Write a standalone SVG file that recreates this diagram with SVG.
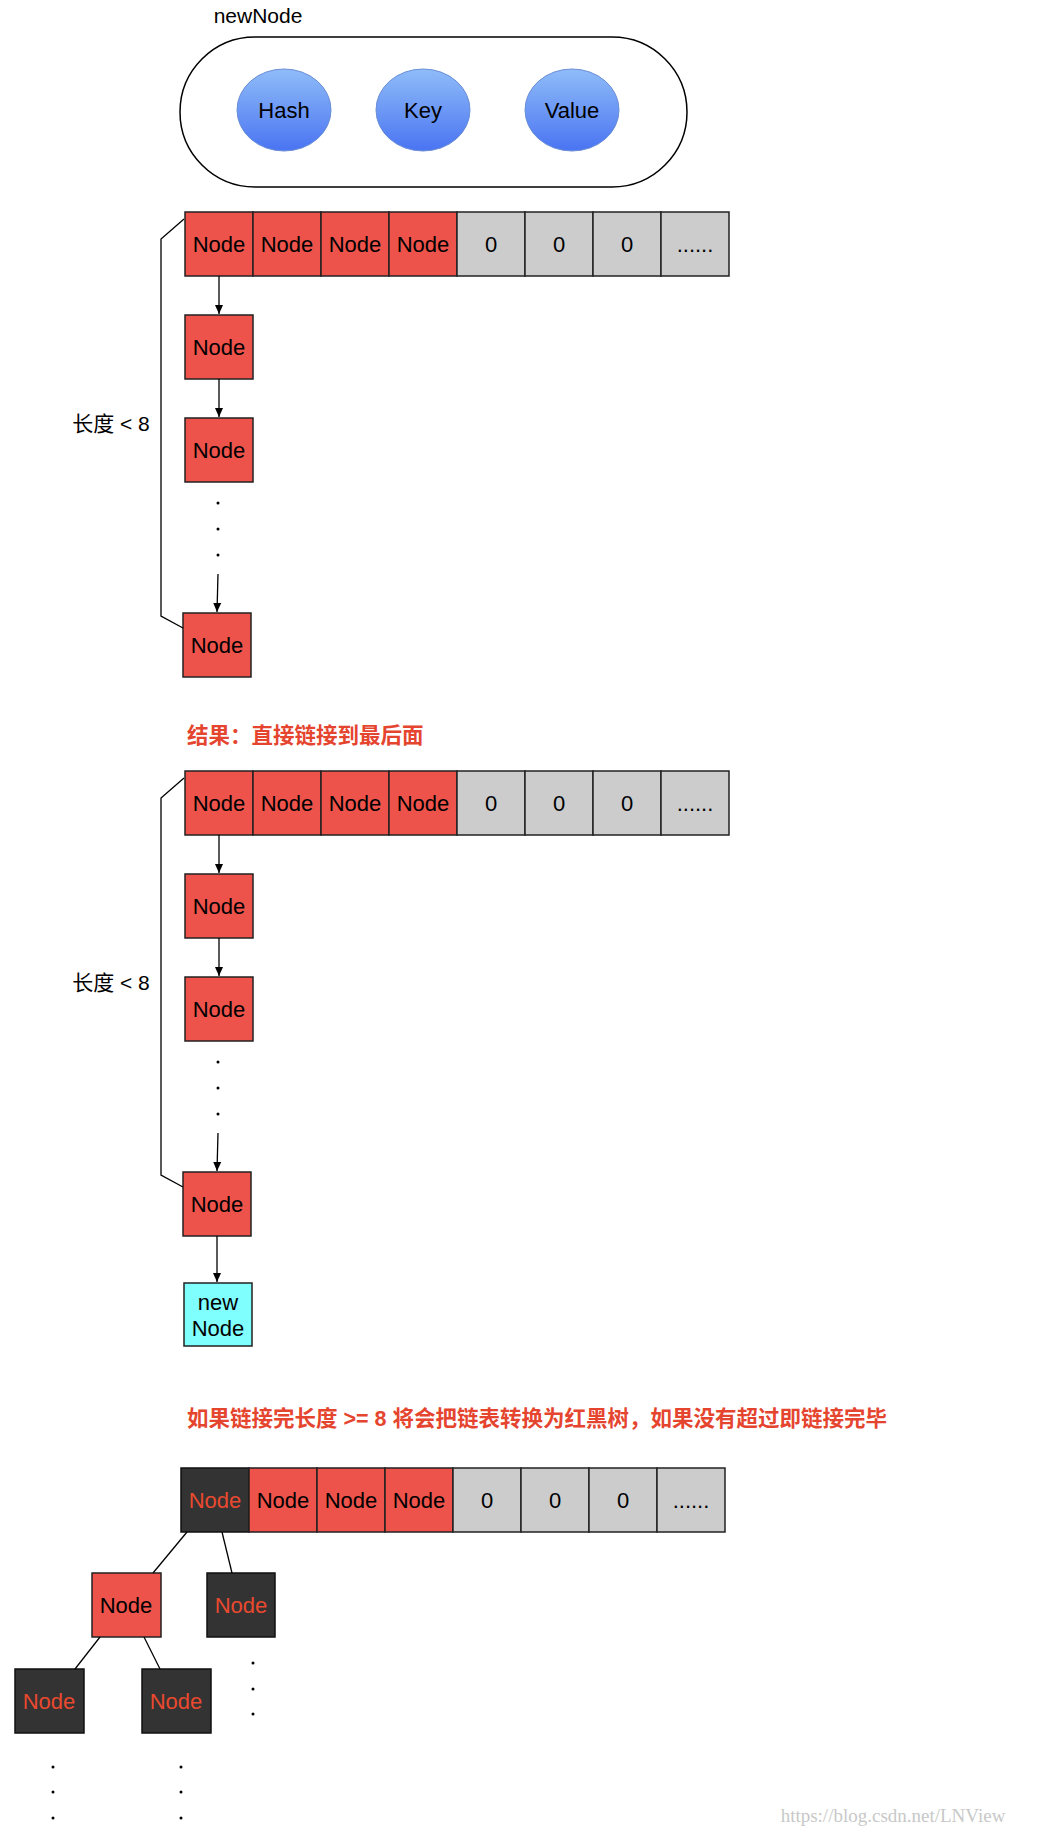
<svg xmlns="http://www.w3.org/2000/svg" width="1038" height="1826" viewBox="0 0 1038 1826">
<defs>
<linearGradient id="bg" x1="0" y1="0" x2="0" y2="1"><stop offset="0" stop-color="#8FBCF8"/><stop offset="1" stop-color="#4A74F2"/></linearGradient>
<marker id="ah" markerWidth="10" markerHeight="10" refX="9" refY="5" orient="auto" markerUnits="userSpaceOnUse"><path d="M0,1 L9,5 L0,9 Z" fill="#000"/></marker>
</defs>
<style>
text{font-family:"Liberation Sans",Arial,sans-serif;font-size:22px;text-anchor:middle;dominant-baseline:central;fill:#000}
.r{fill:#EE534B;stroke:#222;stroke-width:1.5}
.g{fill:#CCCCCC;stroke:#222;stroke-width:1.5}
.d{fill:#333333;stroke:#111;stroke-width:1.5}
.c{fill:#80FFFF;stroke:#222;stroke-width:1.5}
.dt{fill:#E9492F}
.ln{stroke:#000;stroke-width:1.3;fill:none}
.ar{stroke:#000;stroke-width:1.3;fill:none;marker-end:url(#ah)}
.t{fill:#E5452F;font-weight:bold;font-size:21.5px;text-anchor:start;font-family:"Liberation Sans","Noto Sans CJK SC",sans-serif}
.cj{font-family:"Liberation Sans","Noto Sans CJK SC",sans-serif;font-size:21px}
.dot{fill:#000}
</style>
<g id="newNode">
<text x="258" y="15" style="font-size:21px">newNode</text>
<rect x="180" y="37" width="507" height="150" rx="75" ry="75" fill="#fff" stroke="#000" stroke-width="1.5"/>
<ellipse cx="284" cy="110" rx="47" ry="41" fill="url(#bg)" stroke="#6A8ED6"/>
<text x="284" y="110">Hash</text>
<ellipse cx="423" cy="110" rx="47" ry="41" fill="url(#bg)" stroke="#6A8ED6"/>
<text x="423" y="110">Key</text>
<ellipse cx="572" cy="110" rx="47" ry="41" fill="url(#bg)" stroke="#6A8ED6"/>
<text x="572" y="110">Value</text>
</g>
<g id="arr1">
<rect class="r" x="185" y="212" width="68" height="64"/><text x="219" y="244">Node</text>
<rect class="r" x="253" y="212" width="68" height="64"/><text x="287" y="244">Node</text>
<rect class="r" x="321" y="212" width="68" height="64"/><text x="355" y="244">Node</text>
<rect class="r" x="389" y="212" width="68" height="64"/><text x="423" y="244">Node</text>
<rect class="g" x="457" y="212" width="68" height="64"/><text x="491" y="244">0</text>
<rect class="g" x="525" y="212" width="68" height="64"/><text x="559" y="244">0</text>
<rect class="g" x="593" y="212" width="68" height="64"/><text x="627" y="244">0</text>
<rect class="g" x="661" y="212" width="68" height="64"/><text x="695" y="244">......</text>
</g>
<g id="n1a"><rect class="r" x="185" y="315" width="68" height="64"/><text x="219" y="347">Node</text></g>
<g id="n1b"><rect class="r" x="185" y="418" width="68" height="64"/><text x="219" y="450">Node</text></g>
<g id="n1c"><rect class="r" x="183" y="613" width="68" height="64"/><text x="217" y="645">Node</text></g>
<g id="lbl1"><text class="cj" x="111" y="423">长度 &lt; 8</text></g>
<g id="dots1"><circle class="dot" cx="218" cy="503" r="1.5"/><circle class="dot" cx="218" cy="529" r="1.5"/><circle class="dot" cx="218" cy="555" r="1.5"/></g>
<g id="res"><text class="t" x="187" y="736">结果：直接链接到最后面</text></g>
<g id="arr2">
<rect class="r" x="185" y="771" width="68" height="64"/><text x="219" y="803">Node</text>
<rect class="r" x="253" y="771" width="68" height="64"/><text x="287" y="803">Node</text>
<rect class="r" x="321" y="771" width="68" height="64"/><text x="355" y="803">Node</text>
<rect class="r" x="389" y="771" width="68" height="64"/><text x="423" y="803">Node</text>
<rect class="g" x="457" y="771" width="68" height="64"/><text x="491" y="803">0</text>
<rect class="g" x="525" y="771" width="68" height="64"/><text x="559" y="803">0</text>
<rect class="g" x="593" y="771" width="68" height="64"/><text x="627" y="803">0</text>
<rect class="g" x="661" y="771" width="68" height="64"/><text x="695" y="803">......</text>
</g>
<g id="n2a"><rect class="r" x="185" y="874" width="68" height="64"/><text x="219" y="906">Node</text></g>
<g id="n2b"><rect class="r" x="185" y="977" width="68" height="64"/><text x="219" y="1009">Node</text></g>
<g id="n2c"><rect class="r" x="183" y="1172" width="68" height="64"/><text x="217" y="1204">Node</text></g>
<g id="n2new"><rect class="c" x="184" y="1283" width="68" height="63"/><text x="218" y="1302">new</text><text x="218" y="1328">Node</text></g>
<g id="lbl2"><text class="cj" x="111" y="982">长度 &lt; 8</text></g>
<g id="dots2"><circle class="dot" cx="218" cy="1062" r="1.5"/><circle class="dot" cx="218" cy="1088" r="1.5"/><circle class="dot" cx="218" cy="1114" r="1.5"/></g>
<g id="title3"><text class="t" x="187" y="1419">如果链接完长度 &gt;= 8 将会把链表转换为红黑树，如果没有超过即链接完毕</text></g>
<g id="arr3">
<rect class="d" x="181" y="1468" width="68" height="64"/><text class="dt" x="215" y="1500">Node</text>
<rect class="r" x="249" y="1468" width="68" height="64"/><text x="283" y="1500">Node</text>
<rect class="r" x="317" y="1468" width="68" height="64"/><text x="351" y="1500">Node</text>
<rect class="r" x="385" y="1468" width="68" height="64"/><text x="419" y="1500">Node</text>
<rect class="g" x="453" y="1468" width="68" height="64"/><text x="487" y="1500">0</text>
<rect class="g" x="521" y="1468" width="68" height="64"/><text x="555" y="1500">0</text>
<rect class="g" x="589" y="1468" width="68" height="64"/><text x="623" y="1500">0</text>
<rect class="g" x="657" y="1468" width="68" height="64"/><text x="691" y="1500">......</text>
</g>
<g id="t1"><rect class="r" x="92" y="1573" width="69" height="64"/><text x="126" y="1605">Node</text></g>
<g id="t2"><rect class="d" x="207" y="1573" width="68" height="64"/><text class="dt" x="241" y="1605">Node</text></g>
<g id="t3"><rect class="d" x="15" y="1669" width="69" height="64"/><text class="dt" x="49" y="1701">Node</text></g>
<g id="t4"><rect class="d" x="142" y="1669" width="69" height="64"/><text class="dt" x="176" y="1701">Node</text></g>
<g id="dots3">
<circle class="dot" cx="253" cy="1663" r="1.5"/><circle class="dot" cx="253" cy="1689" r="1.5"/><circle class="dot" cx="253" cy="1714" r="1.5"/>
<circle class="dot" cx="53" cy="1767" r="1.5"/><circle class="dot" cx="53" cy="1792" r="1.5"/><circle class="dot" cx="53" cy="1818" r="1.5"/>
<circle class="dot" cx="181" cy="1767" r="1.5"/><circle class="dot" cx="181" cy="1792" r="1.5"/><circle class="dot" cx="181" cy="1818" r="1.5"/>
</g>
<g id="connectors">
<line class="ar" x1="219" y1="276" x2="219" y2="314"/>
<line class="ar" x1="219" y1="379" x2="219" y2="417"/>
<line class="ar" x1="218" y1="574" x2="217" y2="612"/>
<path class="ln" d="M184,219 L161,239 L161,616 L183,628"/>
<line class="ar" x1="219" y1="835" x2="219" y2="873"/>
<line class="ar" x1="219" y1="938" x2="219" y2="976"/>
<line class="ar" x1="218" y1="1133" x2="217" y2="1171"/>
<path class="ln" d="M184,778 L161,798 L161,1175 L183,1187"/>
<line class="ar" x1="217" y1="1236" x2="217" y2="1282"/>
<line class="ln" x1="187" y1="1532" x2="153" y2="1573"/>
<line class="ln" x1="222" y1="1532" x2="232" y2="1573"/>
<line class="ln" x1="100" y1="1637" x2="75" y2="1669"/>
<line class="ln" x1="144" y1="1637" x2="160" y2="1669"/>
</g>
<text x="893" y="1815" style="font-family:'Liberation Serif',serif;font-size:19px;fill:#C8C8C8">https://blog.csdn.net/LNView</text>
</svg>
